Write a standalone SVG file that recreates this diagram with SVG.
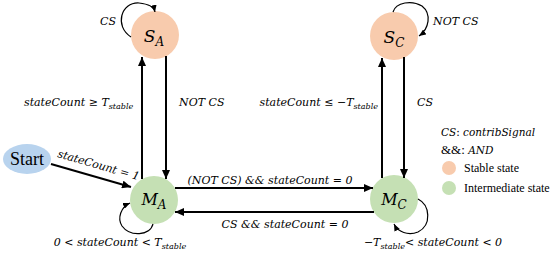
<svg xmlns="http://www.w3.org/2000/svg" width="550" height="254" viewBox="0 0 550 254">
<style>
.stable{fill:#F8CBAD}
.inter{fill:#C5E0B4}
.edge{fill:none;stroke:#000;stroke-width:2}
.loop{fill:none;stroke:#000;stroke-width:1.2}
</style>
<defs>
<marker id="ah" markerUnits="userSpaceOnUse" markerWidth="9" markerHeight="8" refX="9" refY="4" orient="auto">
<path d="M0,0 L9,4 L0,8 z" fill="#000"/>
</marker>
<marker id="ahs" markerUnits="userSpaceOnUse" markerWidth="7" markerHeight="6" refX="7" refY="3" orient="auto">
<path d="M0,0 L7,3 L0,6 z" fill="#000"/>
</marker>
</defs>

<g id="start">
<ellipse cx="27" cy="159" rx="24" ry="15" fill="#B8D3EE"/>
<text x="27" y="165" font-family="Liberation Serif" font-size="18" text-anchor="middle">Start</text>
</g>
<g id="SA">
<circle class="stable" cx="155" cy="35" r="24"/>
<text x="154" y="42" font-family="DejaVu Serif" font-style="italic" font-size="17" text-anchor="middle">S<tspan font-size="12" dy="4">A</tspan></text>
</g>
<g id="SC">
<circle class="stable" cx="394" cy="36" r="24"/>
<text x="394" y="43" font-family="DejaVu Serif" font-style="italic" font-size="17" text-anchor="middle">S<tspan font-size="12" dy="4">C</tspan></text>
</g>
<g id="MA">
<circle class="inter" cx="154" cy="200" r="24"/>
<text x="154" y="205" font-family="DejaVu Serif" font-style="italic" font-size="16" text-anchor="middle">M<tspan font-size="12" dy="4">A</tspan></text>
</g>
<g id="MC">
<circle class="inter" cx="394" cy="199" r="24"/>
<text x="394" y="205" font-family="DejaVu Serif" font-style="italic" font-size="16" text-anchor="middle">M<tspan font-size="12" dy="4">C</tspan></text>
</g>

<g id="connectors">
<line class="edge" x1="51" y1="164" x2="131" y2="187" marker-end="url(#ah)"/>
<line class="edge" x1="142" y1="179" x2="142" y2="57" marker-end="url(#ah)"/>
<line class="edge" x1="166" y1="56" x2="166" y2="179" marker-end="url(#ah)"/>
<line class="edge" x1="382" y1="178" x2="382" y2="58" marker-end="url(#ah)"/>
<line class="edge" x1="404" y1="57" x2="404" y2="178" marker-end="url(#ah)"/>
<line class="edge" x1="175" y1="188" x2="373" y2="188" marker-end="url(#ah)"/>
<line class="edge" x1="374" y1="212" x2="175" y2="212" marker-end="url(#ah)"/>
<path class="loop" d="M131,37 C114,26 121,2 139,3 C149,4 154,7 155,12" marker-end="url(#ahs)"/>
<path class="loop" d="M393,12 C396,2 412,0 422,6 C432,14 429,29 419,36" marker-end="url(#ahs)"/>
<path class="loop" d="M153,224 C150,236 130,237 122,226 C117,218 121,207 130,203" marker-end="url(#ahs)"/>
<path class="loop" d="M418,199 C430,205 432,225 418,232 C408,236 398,232 394,224" marker-end="url(#ahs)"/>
</g>

<g id="labels">
<text x="100" y="25" font-family="DejaVu Serif" font-style="italic" font-size="11">CS</text>
<text x="433" y="25" font-family="DejaVu Serif" font-style="italic" font-size="11">NOT CS</text>
<text x="24" y="106" font-family="DejaVu Serif" font-style="italic" font-size="11">stateCount ≥ T<tspan font-size="8" dy="3">stable</tspan></text>
<text x="179" y="106" font-family="DejaVu Serif" font-style="italic" font-size="11">NOT CS</text>
<text x="378" y="106" text-anchor="end" font-family="DejaVu Serif" font-style="italic" font-size="11">stateCount ≤ −T<tspan font-size="8" dy="3">stable</tspan></text>
<text x="417" y="106" font-family="DejaVu Serif" font-style="italic" font-size="11">CS</text>
<text transform="translate(57,157) rotate(16)" font-family="DejaVu Serif" font-style="italic" font-size="11">stateCount = 1</text>
<text x="270" y="184" text-anchor="middle" font-family="DejaVu Serif" font-style="italic" font-size="11">(NOT CS) &amp;&amp; stateCount = 0</text>
<text x="285" y="228" text-anchor="middle" font-family="DejaVu Serif" font-style="italic" font-size="11">CS &amp;&amp; stateCount = 0</text>
<text x="120" y="246" text-anchor="middle" font-family="DejaVu Serif" font-style="italic" font-size="11">0 &lt; stateCount &lt; T<tspan font-size="8" dy="3">stable</tspan></text>
<text x="433" y="246" text-anchor="middle" font-family="DejaVu Serif" font-style="italic" font-size="11">−T<tspan font-size="8" dy="3">stable</tspan><tspan dy="-3">&lt; stateCount &lt; 0</tspan></text>
</g>

<g id="legend">
<text x="441" y="136" font-family="DejaVu Serif" font-style="italic" font-size="10.5">CS<tspan font-style="normal">:</tspan> contribSignal</text>
<text x="441" y="154" font-family="DejaVu Serif" font-size="10.5"><tspan font-family="Liberation Serif" font-size="13">&amp;&amp;:</tspan> <tspan font-style="italic">AND</tspan></text>
<circle class="stable" cx="449" cy="168" r="7"/>
<text x="464" y="172" font-family="Liberation Serif" font-size="12">Stable state</text>
<circle class="inter" cx="449" cy="188" r="7"/>
<text x="464" y="192" font-family="Liberation Serif" font-size="12">Intermediate state</text>
</g>
</svg>
